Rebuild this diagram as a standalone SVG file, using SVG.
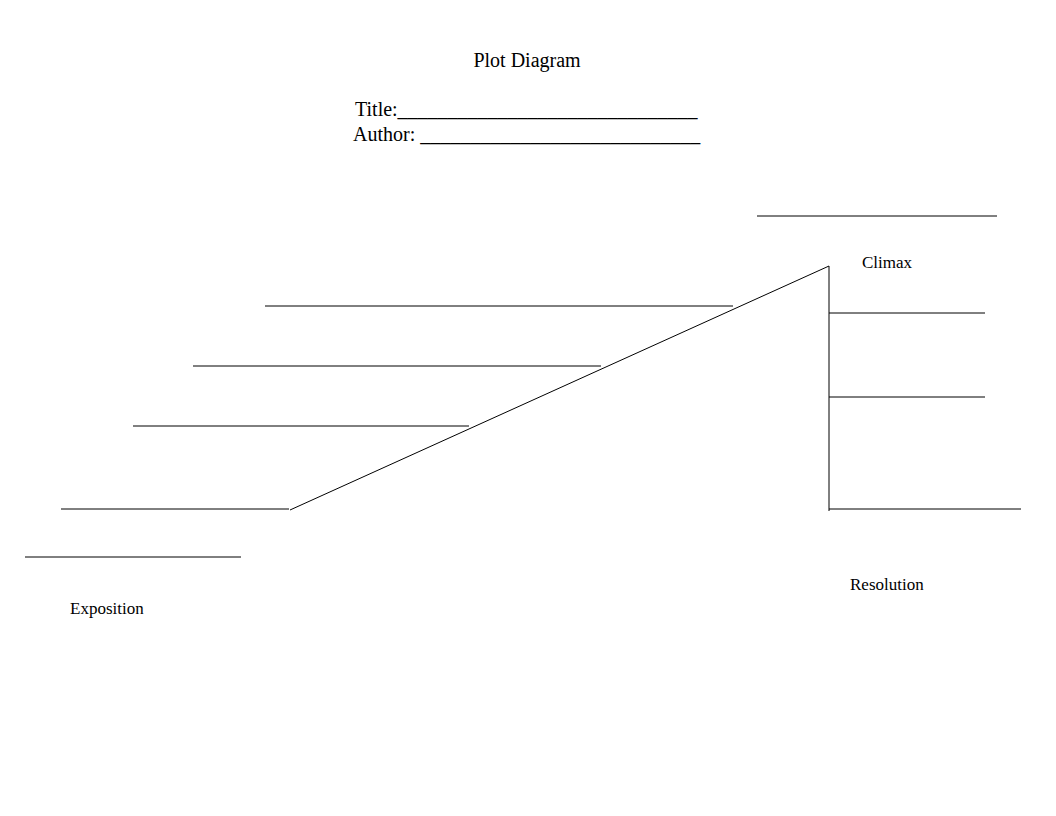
<svg xmlns="http://www.w3.org/2000/svg" width="1056" height="816" viewBox="0 0 1056 816">
<style>
text{font-family:"Liberation Serif",serif;fill:#000}
.h{font-size:20px}
.l{font-size:17px}
line{stroke:#000;stroke-width:1}
</style>
<rect width="1056" height="816" fill="#fff"/>
<g id="header">
<text class="h" x="527" y="67" text-anchor="middle">Plot Diagram</text>
<text class="h" x="355" y="116">Title:______________________________</text>
<text class="h" x="353" y="141">Author: ____________________________</text>
</g>
<g id="connectors">
<line x1="290" y1="510" x2="829" y2="266"/>
<line x1="829" y1="266" x2="829" y2="511"/>
</g>
<g id="blanks">
<line x1="757" y1="216" x2="997" y2="216"/>
<line x1="265" y1="306" x2="733" y2="306"/>
<line x1="193" y1="366" x2="601" y2="366"/>
<line x1="133" y1="426" x2="469" y2="426"/>
<line x1="61" y1="509" x2="289" y2="509"/>
<line x1="25" y1="557" x2="241" y2="557"/>
<line x1="829" y1="313" x2="985" y2="313"/>
<line x1="829" y1="397" x2="985" y2="397"/>
<line x1="829" y1="509" x2="1021" y2="509"/>
</g>
<g id="labels">
<text class="l" x="862" y="268">Climax</text>
<text class="l" x="850" y="590">Resolution</text>
<text class="l" x="70" y="614">Exposition</text>
</g>
</svg>
